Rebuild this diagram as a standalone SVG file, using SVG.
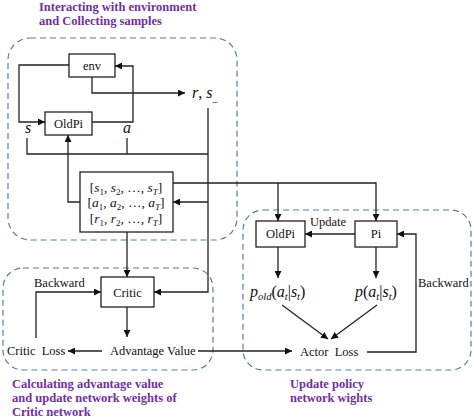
<svg xmlns="http://www.w3.org/2000/svg" width="474" height="419" viewBox="0 0 474 419">
<defs>
<marker id="ah" viewBox="0 0 10 10" refX="10" refY="5" markerWidth="7" markerHeight="7" markerUnits="userSpaceOnUse" orient="auto">
<path d="M0,0 L10,5 L0,10 z" fill="#111"/>
</marker>
<style>
.box{fill:#fff;stroke:#222;stroke-width:1.3}
.grp{fill:none;stroke:#5a7ca3;stroke-width:1.2;stroke-dasharray:6,4}
.ln{fill:none;stroke:#222;stroke-width:1.3}
.ar{fill:none;stroke:#222;stroke-width:1.3;marker-end:url(#ah)}
.t{font-family:"Liberation Serif","Times New Roman",serif;font-size:12.5px;fill:#111}
.m{font-family:"Liberation Serif","Times New Roman",serif;font-size:13.5px;fill:#111}
.p{font-family:"Liberation Serif","Times New Roman",serif;font-size:16px;fill:#111}
.i{font-style:italic}
.cap{font-family:"Liberation Serif","Times New Roman",serif;font-size:12.5px;font-weight:bold;fill:#7030a0}
</style>
</defs>
<rect width="474" height="419" fill="#fff"/>

<g id="groups">
<rect class="grp" x="8" y="38" width="229" height="202" rx="22"/>
<rect class="grp" x="3" y="268" width="210" height="102" rx="20"/>
<rect class="grp" x="243" y="210" width="228" height="160" rx="20"/>
</g>

<g id="captions">
<text class="cap" x="39" y="10.5">Interacting with environment</text>
<text class="cap" x="39" y="25">and Collecting samples</text>
<text class="cap" x="12" y="388">Calculating advantage value</text>
<text class="cap" x="12" y="402">and update network weights of</text>
<text class="cap" x="12" y="416">Critic network</text>
<text class="cap" x="290" y="388">Update policy</text>
<text class="cap" x="290" y="402">network wights</text>
</g>

<g id="connectors">
<path class="ar" d="M69,65 H19 V122 H45"/>
<path class="ar" d="M92,122 H133 V66 H115"/>
<path class="ar" d="M92,77 V93 H185"/>
<path class="ln" d="M27,138 V154 H208"/>
<path class="ln" d="M127,138 V154"/>
<path class="ar" d="M208,108 V292 H154"/>
<path class="ar" d="M208,202 H173"/>
<path class="ar" d="M80,202 H68 V135"/>
<path class="ar" d="M167,183 H376 V221"/>
<path class="ar" d="M278,183 V221"/>
<path class="ar" d="M127,232 V277"/>
<path class="ar" d="M127,307 V337"/>
<path class="ar" d="M102,351 H68"/>
<path class="ar" d="M36,338 V292 H101"/>
<path class="ar" d="M198,351 H292"/>
<path class="ar" d="M367,352 H416 V234 H397"/>
<path class="ar" d="M355,234 H305"/>
<path class="ar" d="M278,247 V278"/>
<path class="ar" d="M376,247 V278"/>
<path class="ar" d="M282,305 L328,339"/>
<path class="ar" d="M377,305 L331,339"/>
</g>

<g id="env">
<rect class="box" x="69" y="54" width="46" height="23"/>
<text class="t" x="92" y="70" text-anchor="middle">env</text>
</g>

<g id="oldpi-top">
<rect class="box" x="45" y="112" width="47" height="23"/>
<text class="t" x="68.5" y="128" text-anchor="middle">OldPi</text>
</g>

<g id="rs">
<text class="p i" x="192" y="98">r<tspan font-style="normal">, </tspan>s<tspan font-size="10" dy="3">_</tspan></text>
</g>

<g id="s-label"><text class="p i" x="28" y="133" text-anchor="middle">s</text></g>
<g id="a-label"><text class="p i" x="127" y="133" text-anchor="middle">a</text></g>

<g id="samples">
<rect class="box" x="80" y="172" width="93" height="60"/>
<text class="m" x="126" y="192" text-anchor="middle">[<tspan class="i">s</tspan><tspan font-size="9" dy="3">1</tspan><tspan dy="-3">, </tspan><tspan class="i">s</tspan><tspan font-size="9" dy="3">2</tspan><tspan dy="-3">, …, </tspan><tspan class="i">s</tspan><tspan class="i" font-size="9" dy="3">T</tspan><tspan dy="-3">]</tspan></text>
<text class="m" x="126" y="207" text-anchor="middle">[<tspan class="i">a</tspan><tspan font-size="9" dy="3">1</tspan><tspan dy="-3">, </tspan><tspan class="i">a</tspan><tspan font-size="9" dy="3">2</tspan><tspan dy="-3">, …, </tspan><tspan class="i">a</tspan><tspan class="i" font-size="9" dy="3">T</tspan><tspan dy="-3">]</tspan></text>
<text class="m" x="126" y="223" text-anchor="middle">[<tspan class="i">r</tspan><tspan font-size="9" dy="3">1</tspan><tspan dy="-3">, </tspan><tspan class="i">r</tspan><tspan font-size="9" dy="3">2</tspan><tspan dy="-3">, …, </tspan><tspan class="i">r</tspan><tspan class="i" font-size="9" dy="3">T</tspan><tspan dy="-3">]</tspan></text>
</g>

<g id="critic">
<rect class="box" x="101" y="277" width="53" height="30"/>
<text class="t" x="127.5" y="297" text-anchor="middle">Critic</text>
</g>

<g id="advantage"><text class="t" x="110" y="355">Advantage Value</text></g>
<g id="critic-loss"><text class="t" x="7" y="355" xml:space="preserve">Critic  Loss</text></g>
<g id="backward-left"><text class="t" x="34" y="287">Backward</text></g>

<g id="oldpi-right">
<rect class="box" x="256" y="221" width="49" height="26"/>
<text class="t" x="280.5" y="238" text-anchor="middle">OldPi</text>
</g>
<g id="pi">
<rect class="box" x="355" y="221" width="42" height="26"/>
<text class="t" x="376" y="238" text-anchor="middle">Pi</text>
</g>
<g id="update"><text class="t" x="310" y="226">Update</text></g>
<g id="backward-right"><text class="t" x="418" y="287">Backward</text></g>

<g id="pold">
<text class="p" x="250" y="297"><tspan class="i">p</tspan><tspan class="i" font-size="10.5" dy="3">old</tspan><tspan dy="-3">(</tspan><tspan class="i">a</tspan><tspan class="i" font-size="10.5" dy="3">t</tspan><tspan dy="-3">|</tspan><tspan class="i">s</tspan><tspan class="i" font-size="10.5" dy="3">t</tspan><tspan dy="-3">)</tspan></text>
</g>
<g id="pnew">
<text class="p" x="355" y="297"><tspan class="i">p</tspan>(<tspan class="i">a</tspan><tspan class="i" font-size="10.5" dy="3">t</tspan><tspan dy="-3">|</tspan><tspan class="i">s</tspan><tspan class="i" font-size="10.5" dy="3">t</tspan><tspan dy="-3">)</tspan></text>
</g>

<g id="actor-loss"><text class="t" x="300" y="356" xml:space="preserve">Actor  Loss</text></g>
</svg>
